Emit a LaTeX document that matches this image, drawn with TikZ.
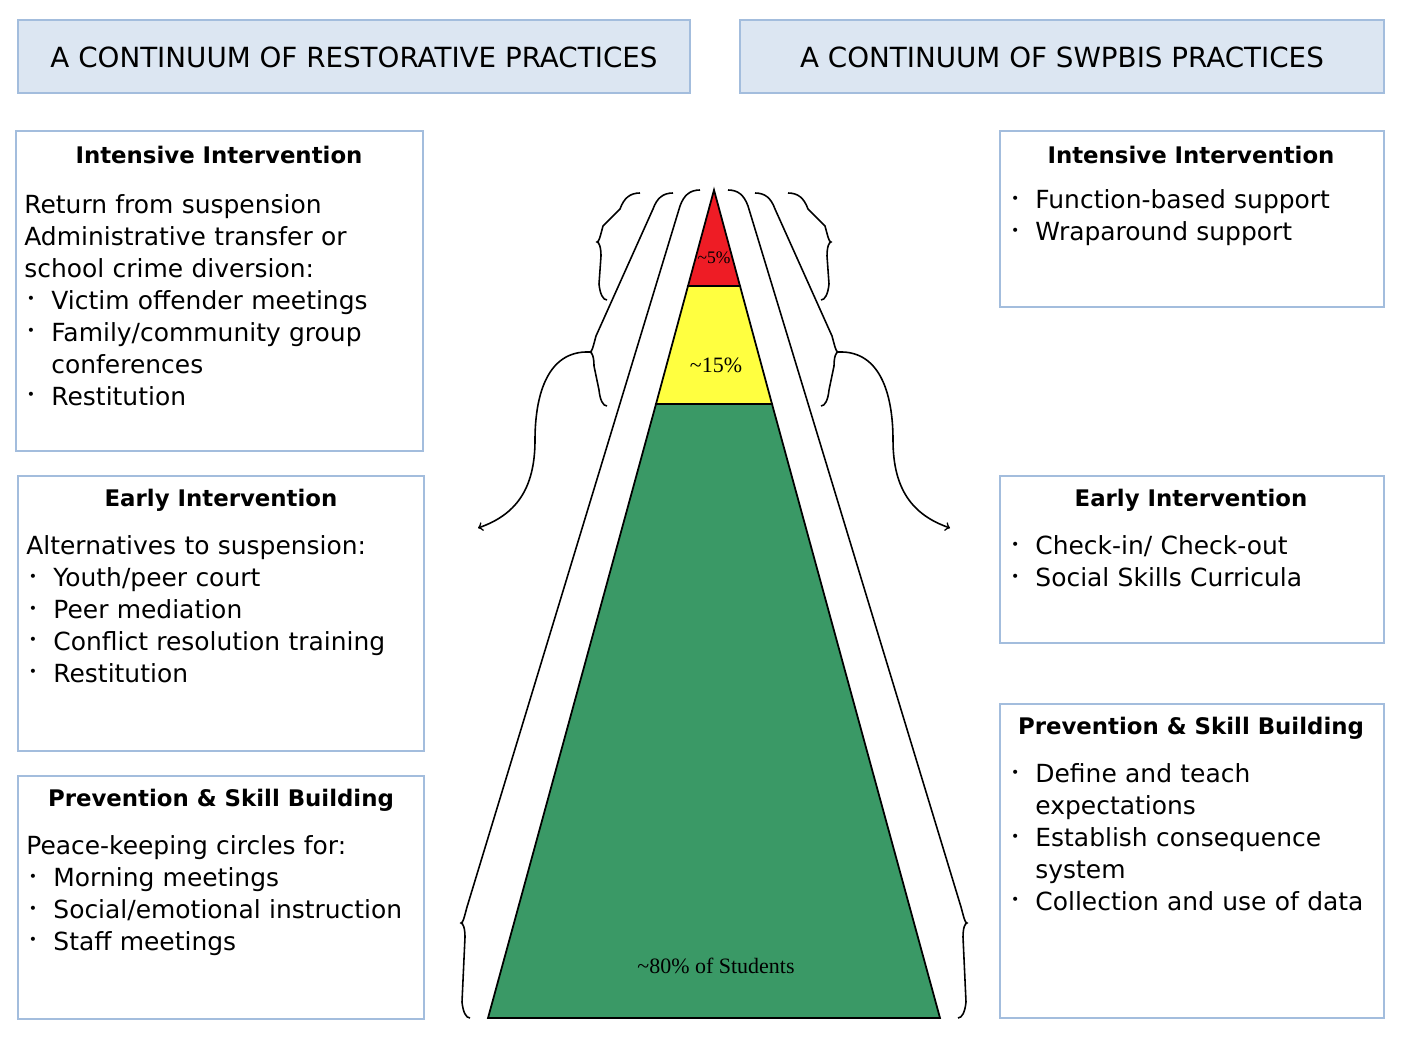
\documentclass[tikz,border=0pt]{standalone}
\usepackage{fontspec}
\setmainfont{DejaVu Sans}
\newfontfamily\timesf{Liberation Serif}
\usepackage{xcolor}
\definecolor{hdrfill}{HTML}{DCE6F2}
\definecolor{boxline}{HTML}{A3BDDD}
\definecolor{tierred}{HTML}{EE1C25}
\definecolor{tieryellow}{HTML}{FFFF40}
\definecolor{tiergreen}{HTML}{3A9966}
\usetikzlibrary{positioning}

\newcommand\dotmark{\makebox[15.4pt][l]{\hspace{1.5pt}\raisebox{3pt}{\fontsize{8}{8}\selectfont\textbullet}}}
\newcommand\fitem[1]{\hangindent=15.4pt\hangafter=1\noindent\dotmark#1}
\newcommand\bitem[1]{\par\fitem{#1}}
% brace: top, tip, bottom, side (1 left, -1 right)
\newcommand\curlbrace[7]{%
  \draw[line width=0.9pt] (#1,#2) .. controls (#1-10*#7,#2) and (#1-16*#7,#2+5) .. (#1-20*#7,#2+16)
    -- (#3+6*#7,#4-16) .. controls (#3+3*#7,#4-5) and (#3+2*#7,#4) .. (#3,#4)
    .. controls (#3+2*#7,#4) and (#3+4*#7,#4+5) .. (#3+4*#7,#4+14)
    -- (#5-4*#7,#6-16) .. controls (#5-3*#7,#6-6) and (#5,#6) .. (#5+4*#7,#6);}

\begin{document}
\begin{tikzpicture}[x=0.02cm,y=-0.02cm,
    hdr/.style={draw=boxline,fill=hdrfill,line width=0.8pt},
    tierbox/.style={draw=boxline,line width=0.8pt},
    hdrtext/.style={font=\fontsize{15.8}{18}\selectfont},
    ttl/.style={font=\bfseries\fontsize{13}{16}\selectfont},
    body/.style={font=\fontsize{14.2}{18.2}\selectfont,anchor=north west,inner sep=0pt,text width=#1},
    body/.default=7.8cm,
    pct/.style={font=\timesf\fontsize{12.5}{14}\selectfont}]
\useasboundingbox (0,0) rectangle (1402,1052);

% headers
\draw[hdr] (18,20) rectangle (690,93);
\draw[hdr] (740,20) rectangle (1384,93);
\node[hdrtext] (hleft) at (354,57) {A CONTINUUM OF RESTORATIVE PRACTICES};
\node[hdrtext] (hright) at (1062,57) {A CONTINUUM OF SWPBIS PRACTICES};

% left column
\draw[tierbox] (16,131) rectangle (423,451);
\draw[tierbox] (18,476) rectangle (424,751);
\draw[tierbox] (18,776) rectangle (424,1019);
\node[ttl] (lt1) at (219,155) {Intensive Intervention};
\node[ttl] (lt2) at (221,500) {Early Intervention};
\node[ttl] (lt3) at (221,800) {Prevention \& Skill Building};
\node[body] (lb1) at (24,194) {\raggedright Return from suspension\newline Administrative transfer or\newline school crime diversion:%
  \bitem{Victim offender meetings}\bitem{Family/community group\newline conferences}\bitem{Restitution}};
\node[body] (lb2) at (26,535) {\raggedright Alternatives to suspension:%
  \bitem{Youth/peer court}\bitem{Peer mediation}\bitem{Conflict resolution training}\bitem{Restitution}};
\node[body] (lb3) at (26,835) {\raggedright Peace-keeping circles for:%
  \bitem{Morning meetings}\bitem{Social/emotional instruction}\bitem{Staff meetings}};

% right column
\draw[tierbox] (1000,131) rectangle (1384,307);
\draw[tierbox] (1000,476) rectangle (1384,643);
\draw[tierbox] (1000,704) rectangle (1384,1018);
\node[ttl] (rt1) at (1191,155) {Intensive Intervention};
\node[ttl] (rt2) at (1191,500) {Early Intervention};
\node[ttl] (rt3) at (1191,728) {Prevention \& Skill Building};
\node[body] (rb1) at (1008,189) {\raggedright\fitem{Function-based support}\bitem{Wraparound support}};
\node[body] (rb2) at (1008,535) {\raggedright\fitem{Check-in/ Check-out}\bitem{Social Skills Curricula}};
\node[body] (rb3) at (1008,763) {\raggedright\fitem{Define and teach\newline expectations}\bitem{Establish consequence\newline system}\bitem{Collection and use of data}};

% pyramid
\draw[line width=1pt,fill=tiergreen] (656,404) -- (772,404) -- (940,1018) -- (488,1018) -- cycle;
\draw[line width=1pt,fill=tieryellow] (688,286) -- (740,286) -- (772,404) -- (656,404) -- cycle;
\draw[line width=1pt,fill=tierred] (714,190) -- (740,286) -- (688,286) -- cycle;
\node[pct,font=\timesf\fontsize{10}{12}\selectfont] (p5) at (714,258) {\textasciitilde5\%};
\node[pct] (p15) at (716,365) {\textasciitilde15\%};
\node[pct] (p80) at (716,966) {\textasciitilde80\% of Students};

% braces
\curlbrace{640}{193}{597}{242}{603}{300}{1}
\curlbrace{673}{193}{590}{352}{603}{406}{1}
\curlbrace{700}{190}{461}{923}{466}{1018}{1}
\curlbrace{788}{193}{831}{242}{825}{300}{-1}
\curlbrace{755}{193}{838}{352}{825}{406}{-1}
\curlbrace{728}{190}{967}{923}{962}{1018}{-1}

\coordinate (ltip) at (590,352);
\coordinate (rtip) at (838,352);
\coordinate (lend) at (478,528);
\coordinate (rend) at (950,528);
\draw[->,line width=0.9pt] (ltip) .. controls (545,350) and (535,400) .. (535,440) .. controls (535,490) and (515,515) .. (lend);
\draw[->,line width=0.9pt] (rtip) .. controls (883,350) and (893,400) .. (893,440) .. controls (893,490) and (913,515) .. (rend);
\end{tikzpicture}
\end{document}
